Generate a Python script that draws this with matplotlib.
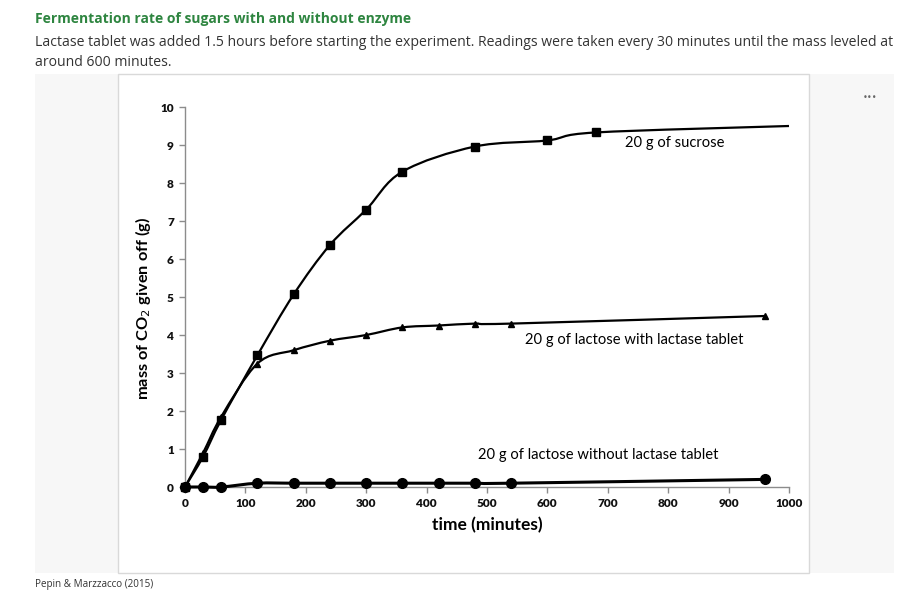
import numpy as np
import matplotlib.pyplot as plt
from matplotlib.path import Path
from matplotlib.patches import PathPatch, Rectangle

# readings (minutes, grams of CO2)
sucrose_t = [0, 30, 60, 120, 180, 240, 300, 360, 480, 600, 680]
sucrose_m = [0, 0.8, 1.77, 3.47, 5.07, 6.37, 7.3, 8.3, 8.96, 9.12, 9.33]
sucrose_end = (1000, 9.5)   # line carries on without a marker

tablet_t = [0, 30, 60, 120, 180, 240, 300, 360, 420, 480, 540, 960]
tablet_m = [0, 0.9, 1.85, 3.25, 3.6, 3.85, 4.0, 4.2, 4.25, 4.3, 4.3, 4.5]

notab_t = [0, 30, 60, 120, 180, 240, 300, 360, 420, 480, 540, 960]
notab_m = [0, 0, 0, 0.1, 0.1, 0.1, 0.1, 0.1, 0.1, 0.1, 0.1, 0.2]

labels = ["20 g of sucrose", "20 g of lactose with lactase tablet",
          "20 g of lactose without lactase tablet"]

W, H = 912, 601
fig = plt.figure(figsize=(W / 100, H / 100), dpi=100)


def px(x, y, w, h):
    return [x / W, 1 - (y + h) / H, w / W, h / H]


# page furniture
bg = fig.add_axes([0, 0, 1, 1])
bg.set_xlim(0, W)
bg.set_ylim(H, 0)
bg.axis("off")
bg.add_patch(Rectangle((35, 74), 859, 499, fc="#f7f7f7", ec="none"))
bg.add_patch(Rectangle((118, 74), 691, 499, fc="white", ec="#d9d9d9", lw=1))
bg.text(35, 19, "Fermentation rate of sugars with and without enzyme",
        fontfamily="Open Sans", fontweight="bold", fontsize=10,
        color="#2e8540", va="center")
bg.text(35, 43, "Lactase tablet was added 1.5 hours before starting the experiment. "
        "Readings were taken every 30 minutes until the mass leveled at",
        fontfamily="Open Sans", fontsize=10.05, color="#333333", va="center")
bg.text(35, 62, "around 600 minutes.", fontfamily="Open Sans", fontsize=10.05,
        color="#333333", va="center")
bg.text(35, 585, "Pepin & Marzzacco (2015)", fontfamily="Open Sans",
        fontsize=7.1, color="#333333", va="center")
bg.text(870, 97, "\u2022\u2022\u2022", fontsize=6, color="#666666",
        ha="center", va="center")

ax = fig.add_axes(px(185, 107, 604, 380))
ax.set_xlim(0, 1000)
ax.set_ylim(0, 10)
ax.patch.set_alpha(0)


def smooth(ax, xs, ys, lw=1.6):
    # Excel-style smoothed line: Catmull-Rom segments as cubic Beziers
    p = np.column_stack([xs, ys]).astype(float)
    verts = [p[0]]
    codes = [Path.MOVETO]
    n = len(p)
    for i in range(n - 1):
        p0 = p[i - 1] if i > 0 else p[i]
        p3 = p[i + 2] if i + 2 < n else p[i + 1]
        c1 = p[i] + (p[i + 1] - p0) / 6
        c2 = p[i + 1] - (p3 - p[i]) / 6
        verts += [c1, c2, p[i + 1]]
        codes += [Path.CURVE4] * 3
    ax.add_patch(PathPatch(Path(verts, codes), fc="none", ec="black",
                           lw=lw, clip_on=False, zorder=3))


smooth(ax, sucrose_t + [sucrose_end[0]], sucrose_m + [sucrose_end[1]])
smooth(ax, tablet_t, tablet_m)
smooth(ax, notab_t, notab_m, lw=2.2)

ax.plot(sucrose_t, sucrose_m, "s", color="black", ms=5.5, clip_on=False, zorder=4)
ax.plot(tablet_t, tablet_m, "^", color="black", ms=5, clip_on=False, zorder=4)
ax.plot(notab_t, notab_m, "o", color="black", ms=7, clip_on=False, zorder=4)

ax.text(728, 9.05, labels[0], fontfamily="Lato", fontsize=10.6, va="center")
ax.text(563, 3.87, labels[1], fontfamily="Lato", fontsize=10.6, va="center")
ax.text(485, 0.84, labels[2], fontfamily="Lato", fontsize=10.6, va="center")

for s in ["top", "right"]:
    ax.spines[s].set_visible(False)
for s in ["left", "bottom"]:
    ax.spines[s].set_color("#8c8c8c")
    ax.spines[s].set_linewidth(1)

ax.set_xticks(np.arange(0, 1001, 100))
ax.set_yticks(np.arange(0, 11, 1))
ax.tick_params(direction="out", length=4, width=1, color="#8c8c8c",
               labelsize=8.5, pad=4)
for lab in ax.get_xticklabels() + ax.get_yticklabels():
    lab.set_fontfamily("Lato")
    lab.set_fontweight("heavy")
    lab.set_color("#111111")

ax.set_xlabel("time (minutes)", fontfamily="Lato", fontweight="bold",
              fontsize=12.5, labelpad=6)
ax.set_ylabel("mass of CO$_2$ given off (g)", fontfamily="Lato",
              fontweight="bold", fontsize=11.8, labelpad=5)
ax.yaxis.set_label_coords(-0.053, 0.47)

fig.savefig("out.png", dpi=100)
